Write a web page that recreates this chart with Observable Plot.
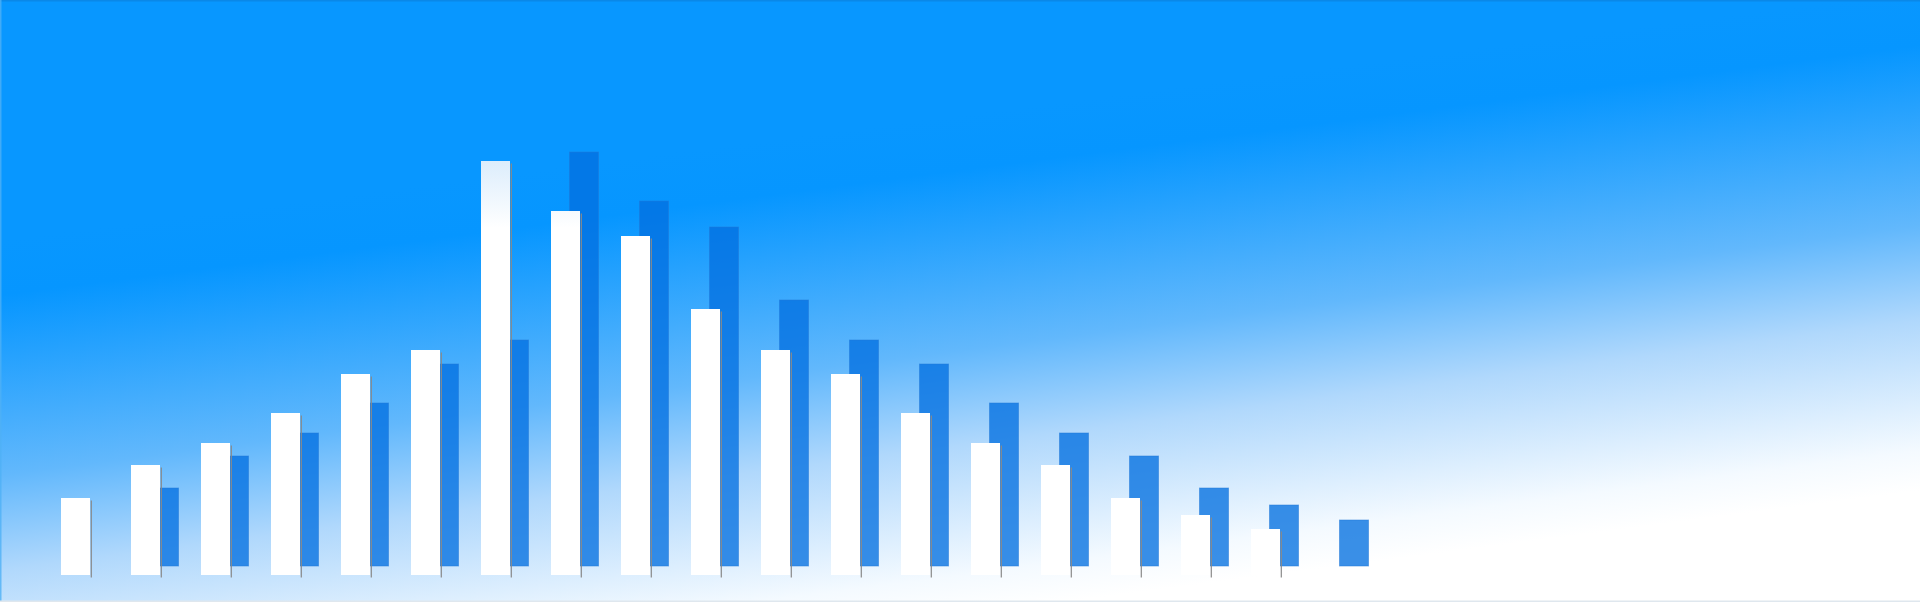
<!DOCTYPE html>
<html>
<head>
<meta charset="utf-8">
<script src="https://cdn.jsdelivr.net/npm/d3@7"></script>
<script src="https://cdn.jsdelivr.net/npm/@observablehq/plot@0.6"></script>
<style>
  html, body { margin: 0; padding: 0; background: #ffffff; }
  #chart svg { display: block; }
</style>
</head>
<body>
<div id="chart"></div>
<script>
// ---- data ----
const slots = [1, 2, 3, 4, 5, 6, 7, 8, 9, 10, 11, 12, 13, 14, 15, 16, 17, 18, 19];

// white (front) series: slots 1..18
const frontSlots = slots.slice(0, 18);
const frontValues = [77, 110, 132, 162, 201, 225, 414, 364, 339, 266, 225, 201, 162, 132, 110, 77, 60, 46];

// blue (back) series: slots 2..19
const backSlots = slots.slice(1);
const backValues = [78, 110, 133, 163, 202, 226, 414, 365, 339, 266, 226, 202, 163, 133, 110, 78, 61, 46];

const front = frontSlots.map((s, i) => ({slot: s, value: frontValues[i]}));
const back = backSlots.map((s, i) => ({slot: s, value: backValues[i]}));

// ---- background (gradient + thin border) ----
function background(index, scales, values, dimensions) {
  const {width, height} = dimensions;
  const g = d3.create("svg:g");
  const defs = g.append("defs");
  const lg = defs.append("linearGradient")
    .attr("id", "bg-grad")
    .attr("gradientUnits", "userSpaceOnUse")
    .attr("x1", 31).attr("y1", 236)
    .attr("x2", 95).attr("y2", 728);
  [[0.00, "#0897ff"], [0.11, "#0696ff"], [0.47, "#62b8fc"], [0.66, "#b0d8fc"], [0.92, "#f4faff"], [1.0, "#ffffff"]]
    .forEach(([o, c]) => lg.append("stop").attr("offset", o).attr("stop-color", c));
  const wg = defs.append("linearGradient")
    .attr("id", "white-grad")
    .attr("gradientUnits", "userSpaceOnUse")
    .attr("x1", 0).attr("y1", 161)
    .attr("x2", 0).attr("y2", 228);
  [[0, "#dcedfc"], [1, "#ffffff"]]
    .forEach(([o, c]) => wg.append("stop").attr("offset", o).attr("stop-color", c));
  g.append("rect").attr("x", 0).attr("y", 0).attr("width", width).attr("height", height)
    .attr("fill", "url(#bg-grad)");
  g.append("rect").attr("x", 0).attr("y", 0).attr("width", width).attr("height", 1.5).attr("fill", "#0a88e8");
  g.append("rect").attr("x", 0).attr("y", 0).attr("width", 1.5).attr("height", height).attr("fill", "#4fb0f5").attr("opacity", 0.8);
  g.append("rect").attr("x", 0).attr("y", height - 1.5).attr("width", width).attr("height", 1.5).attr("fill", "#dfe7ee");
  return g.node();
}

const plot = Plot.plot({
  width: 1920,
  height: 602,
  margin: 0,
  style: {background: "transparent"},
  x: {type: "band", domain: slots, range: [39.7, 1370.9], paddingInner: 0.58, paddingOuter: 0.29, axis: null},
  y: {domain: [0, 575], range: [575, 0], axis: null},
  marks: [
    background,
    // blue bars, set back and up
    Plot.barY(back, {x: "slot", y: "value", dx: 18.5, dy: -9, fill: "#036fe0", fillOpacity: 0.78,
      stroke: "#1f78d8", strokeOpacity: 0.5, strokeWidth: 1}),
    // thin grey shade on the right edge of each white bar
    Plot.ruleX(front, {x: "slot", y1: 0, y2: "value", dx: 15.3, dy: 2.5, stroke: "#8a8a8a", strokeWidth: 1.2}),
    // white bars
    Plot.barY(front, {x: "slot", y: "value", fill: "url(#white-grad)"})
  ]
});

document.getElementById("chart").appendChild(plot);
</script>
</body>
</html>
